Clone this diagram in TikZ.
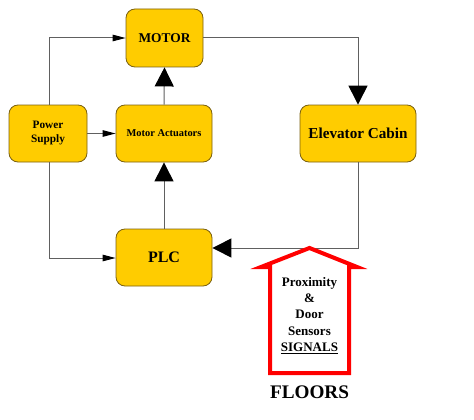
\documentclass[tikz,border=0pt]{standalone}
\usepackage{fontspec}
\setmainfont{Liberation Serif}
\usetikzlibrary{arrows.meta}
\definecolor{boxfill}{HTML}{FFCC00}
\definecolor{boxline}{HTML}{7A6010}
\definecolor{conn}{HTML}{606060}
\definecolor{housered}{HTML}{FF0000}
\begin{document}
\begin{tikzpicture}[x=1pt,y=-1pt,
  blk/.style={draw=boxline,fill=boxfill,rounded corners=9pt,line width=0.8pt,inner sep=0pt,align=center,font=\bfseries},
  wire/.style={draw=conn,line width=1pt},
  bigtip/.style={-{Triangle[width=19pt,length=19pt,color=black]}},
  smalltip/.style={-{Triangle[width=6.5pt,length=13pt,color=black]}}]
\useasboundingbox (0,0) rectangle (474,420);
\node[blk,minimum width=77pt,minimum height=58pt,font=\bfseries\fontsize{13.4}{15}\selectfont] (motor) at (164.5,38) {MOTOR};
\node[blk,minimum width=78pt,minimum height=57pt,font=\bfseries\fontsize{11.3}{14}\selectfont] (ps) at (48,133.5) {Power\\Supply};
\node[blk,minimum width=96pt,minimum height=57pt,font=\bfseries\fontsize{10.4}{12}\selectfont] (ma) at (164,133.5) {Motor Actuators};
\node[blk,minimum width=116pt,minimum height=57pt,font=\bfseries\fontsize{15.2}{17}\selectfont] (ec) at (358,133.5) {Elevator Cabin};
\node[blk,minimum width=96pt,minimum height=57pt,font=\bfseries\fontsize{16}{18}\selectfont] (plc) at (164,257.5) {PLC};
% connectors
\coordinate (psx) at (49,0);
\draw[wire,smalltip] (ps.north -| psx) |- (motor.west);
\draw[wire,smalltip] (ps.east) -- (ma.west);
\draw[wire,bigtip] (ma.north) -- (motor.south);
\draw[wire,bigtip] (motor.east) -| (ec.north);
\draw[wire,bigtip] (plc.north) -- (ma.south);
\coordinate (plcl) at (0,258);
\draw[wire,smalltip] (ps.south -| psx) |- (plc.west |- plcl);
\coordinate (plcr) at (0,248);
\draw[wire,bigtip] (ec.south) |- (plc.east |- plcr);
% house
\draw[housered,line width=4pt,line join=miter,line cap=round]
  (270,373) -- (270,267) -- (261,267) -- (309.5,248) -- (357,267) -- (349,267) -- (349,373) -- cycle;
\node[align=center,inner sep=0pt,font=\bfseries\fontsize{13}{16.3}\selectfont] (sens) at (309.5,315.5)
  {Proximity\\\&\\Door\\Sensors\\\underline{SIGNALS}};
\node[inner sep=0pt,font=\bfseries\fontsize{19.2}{22}\selectfont] (floors) at (309.5,392) {FLOORS};
\end{tikzpicture}
\end{document}
